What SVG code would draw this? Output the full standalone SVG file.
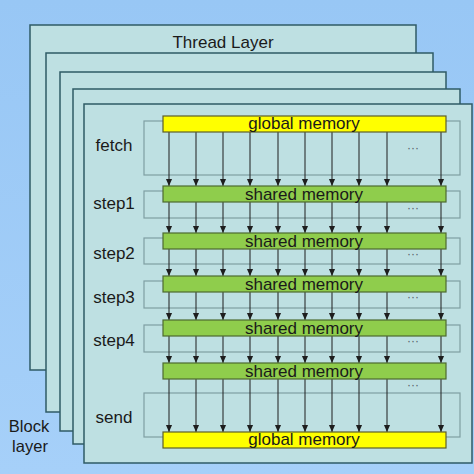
<svg xmlns="http://www.w3.org/2000/svg" width="474" height="474" viewBox="0 0 474 474">
<defs>
<linearGradient id="bg" x1="0" y1="0" x2="0" y2="1">
<stop offset="0" stop-color="#98c7f5"/>
<stop offset="1" stop-color="#a6d0f9"/>
</linearGradient>
<marker id="ar" markerUnits="userSpaceOnUse" markerWidth="7" markerHeight="8" refX="8" refY="3.5" orient="auto" viewBox="0 0 8 7">
<path d="M0,0 L8,3.5 L0,7 Z" fill="#1e1e1e"/>
</marker>
<style>
.layer{fill:#bee0e2;stroke:#2f5b66;stroke-width:1.5}
.box{fill:none;stroke:#7f9ea2;stroke-width:1.2}
.gm{fill:#ffff00;stroke:#5e5e28;stroke-width:1.2}
.sm{fill:#8fcd4c;stroke:#4d6a30;stroke-width:1.2}
.t{font-family:"Liberation Sans",Arial,sans-serif;font-size:17px;fill:#1a1a1a}
.c{text-anchor:middle}
.bl{font-size:16.5px}
.dots{font-family:"Liberation Sans",Arial,sans-serif;font-size:12px;fill:#55606a;text-anchor:middle}
.cn line{stroke:#1e1e1e;stroke-width:1;marker-end:url(#ar)}
</style>
</defs>
<rect width="474" height="474" fill="url(#bg)"/>
<g id="layers">
<rect class="layer" x="30" y="25" width="386" height="345"/>
<rect class="layer" x="46" y="53" width="387" height="359"/>
<rect class="layer" x="60" y="72" width="386" height="359"/>
<rect class="layer" x="73" y="89" width="387" height="355"/>
<rect class="layer" x="84" y="104" width="388" height="359"/>
</g>
<text class="t c" x="223" y="48">Thread Layer</text>
<text class="t c bl" x="29" y="432">Block</text>
<text class="t c bl" x="30" y="452">layer</text>
<g id="row-boxes">
<rect class="box" x="144" y="121" width="316" height="54"/>
<rect class="box" x="144" y="191" width="316" height="27"/>
<rect class="box" x="144" y="238" width="316" height="26"/>
<rect class="box" x="144" y="281" width="316" height="27"/>
<rect class="box" x="144" y="325" width="316" height="27"/>
<rect class="box" x="144" y="393" width="316" height="44"/>
</g>
<g id="labels">
<text class="t c" x="114" y="151">fetch</text>
<text class="t c" x="114" y="209">step1</text>
<text class="t c" x="114" y="259">step2</text>
<text class="t c" x="114" y="303">step3</text>
<text class="t c" x="114" y="346">step4</text>
<text class="t c" x="114" y="423">send</text>
</g>
<g id="dots">
<text class="dots" x="413" y="152">···</text>
<text class="dots" x="413" y="212">···</text>
<text class="dots" x="413" y="258">···</text>
<text class="dots" x="413" y="301">···</text>
<text class="dots" x="413" y="345">···</text>
<text class="dots" x="413" y="389">···</text>
</g>
<g class="cn" id="connectors">
<line x1="169" y1="132" x2="169" y2="186"/><line x1="196" y1="132" x2="196" y2="186"/><line x1="223" y1="132" x2="223" y2="186"/><line x1="250" y1="132" x2="250" y2="186"/><line x1="278" y1="132" x2="278" y2="186"/><line x1="305" y1="132" x2="305" y2="186"/><line x1="332" y1="132" x2="332" y2="186"/><line x1="359" y1="132" x2="359" y2="186"/><line x1="387" y1="132" x2="387" y2="186"/><line x1="441" y1="132" x2="441" y2="186"/>
<line x1="169" y1="202" x2="169" y2="233"/><line x1="196" y1="202" x2="196" y2="233"/><line x1="223" y1="202" x2="223" y2="233"/><line x1="250" y1="202" x2="250" y2="233"/><line x1="278" y1="202" x2="278" y2="233"/><line x1="305" y1="202" x2="305" y2="233"/><line x1="332" y1="202" x2="332" y2="233"/><line x1="359" y1="202" x2="359" y2="233"/><line x1="387" y1="202" x2="387" y2="233"/><line x1="441" y1="202" x2="441" y2="233"/>
<line x1="169" y1="249" x2="169" y2="276"/><line x1="196" y1="249" x2="196" y2="276"/><line x1="223" y1="249" x2="223" y2="276"/><line x1="250" y1="249" x2="250" y2="276"/><line x1="278" y1="249" x2="278" y2="276"/><line x1="305" y1="249" x2="305" y2="276"/><line x1="332" y1="249" x2="332" y2="276"/><line x1="359" y1="249" x2="359" y2="276"/><line x1="387" y1="249" x2="387" y2="276"/><line x1="441" y1="249" x2="441" y2="276"/>
<line x1="169" y1="292" x2="169" y2="320"/><line x1="196" y1="292" x2="196" y2="320"/><line x1="223" y1="292" x2="223" y2="320"/><line x1="250" y1="292" x2="250" y2="320"/><line x1="278" y1="292" x2="278" y2="320"/><line x1="305" y1="292" x2="305" y2="320"/><line x1="332" y1="292" x2="332" y2="320"/><line x1="359" y1="292" x2="359" y2="320"/><line x1="387" y1="292" x2="387" y2="320"/><line x1="441" y1="292" x2="441" y2="320"/>
<line x1="169" y1="336" x2="169" y2="363"/><line x1="196" y1="336" x2="196" y2="363"/><line x1="223" y1="336" x2="223" y2="363"/><line x1="250" y1="336" x2="250" y2="363"/><line x1="278" y1="336" x2="278" y2="363"/><line x1="305" y1="336" x2="305" y2="363"/><line x1="332" y1="336" x2="332" y2="363"/><line x1="359" y1="336" x2="359" y2="363"/><line x1="387" y1="336" x2="387" y2="363"/><line x1="441" y1="336" x2="441" y2="363"/>
<line x1="169" y1="379" x2="169" y2="432"/><line x1="196" y1="379" x2="196" y2="432"/><line x1="223" y1="379" x2="223" y2="432"/><line x1="250" y1="379" x2="250" y2="432"/><line x1="278" y1="379" x2="278" y2="432"/><line x1="305" y1="379" x2="305" y2="432"/><line x1="332" y1="379" x2="332" y2="432"/><line x1="359" y1="379" x2="359" y2="432"/><line x1="387" y1="379" x2="387" y2="432"/><line x1="441" y1="379" x2="441" y2="432"/>
</g>
<g id="global-top"><rect class="gm" x="163" y="116" width="283" height="16"/><text class="t c" x="304" y="129">global memory</text></g>
<g id="shared-1"><rect class="sm" x="163" y="186" width="283" height="16"/><text class="t c" x="304" y="200">shared memory</text></g>
<g id="shared-2"><rect class="sm" x="163" y="233" width="283" height="16"/><text class="t c" x="304" y="247">shared memory</text></g>
<g id="shared-3"><rect class="sm" x="163" y="276" width="283" height="16"/><text class="t c" x="304" y="290">shared memory</text></g>
<g id="shared-4"><rect class="sm" x="163" y="320" width="283" height="16"/><text class="t c" x="304" y="334">shared memory</text></g>
<g id="shared-5"><rect class="sm" x="163" y="363" width="283" height="16"/><text class="t c" x="304" y="377">shared memory</text></g>
<g id="global-bottom"><rect class="gm" x="163" y="432" width="283" height="16"/><text class="t c" x="304" y="445">global memory</text></g>
</svg>
